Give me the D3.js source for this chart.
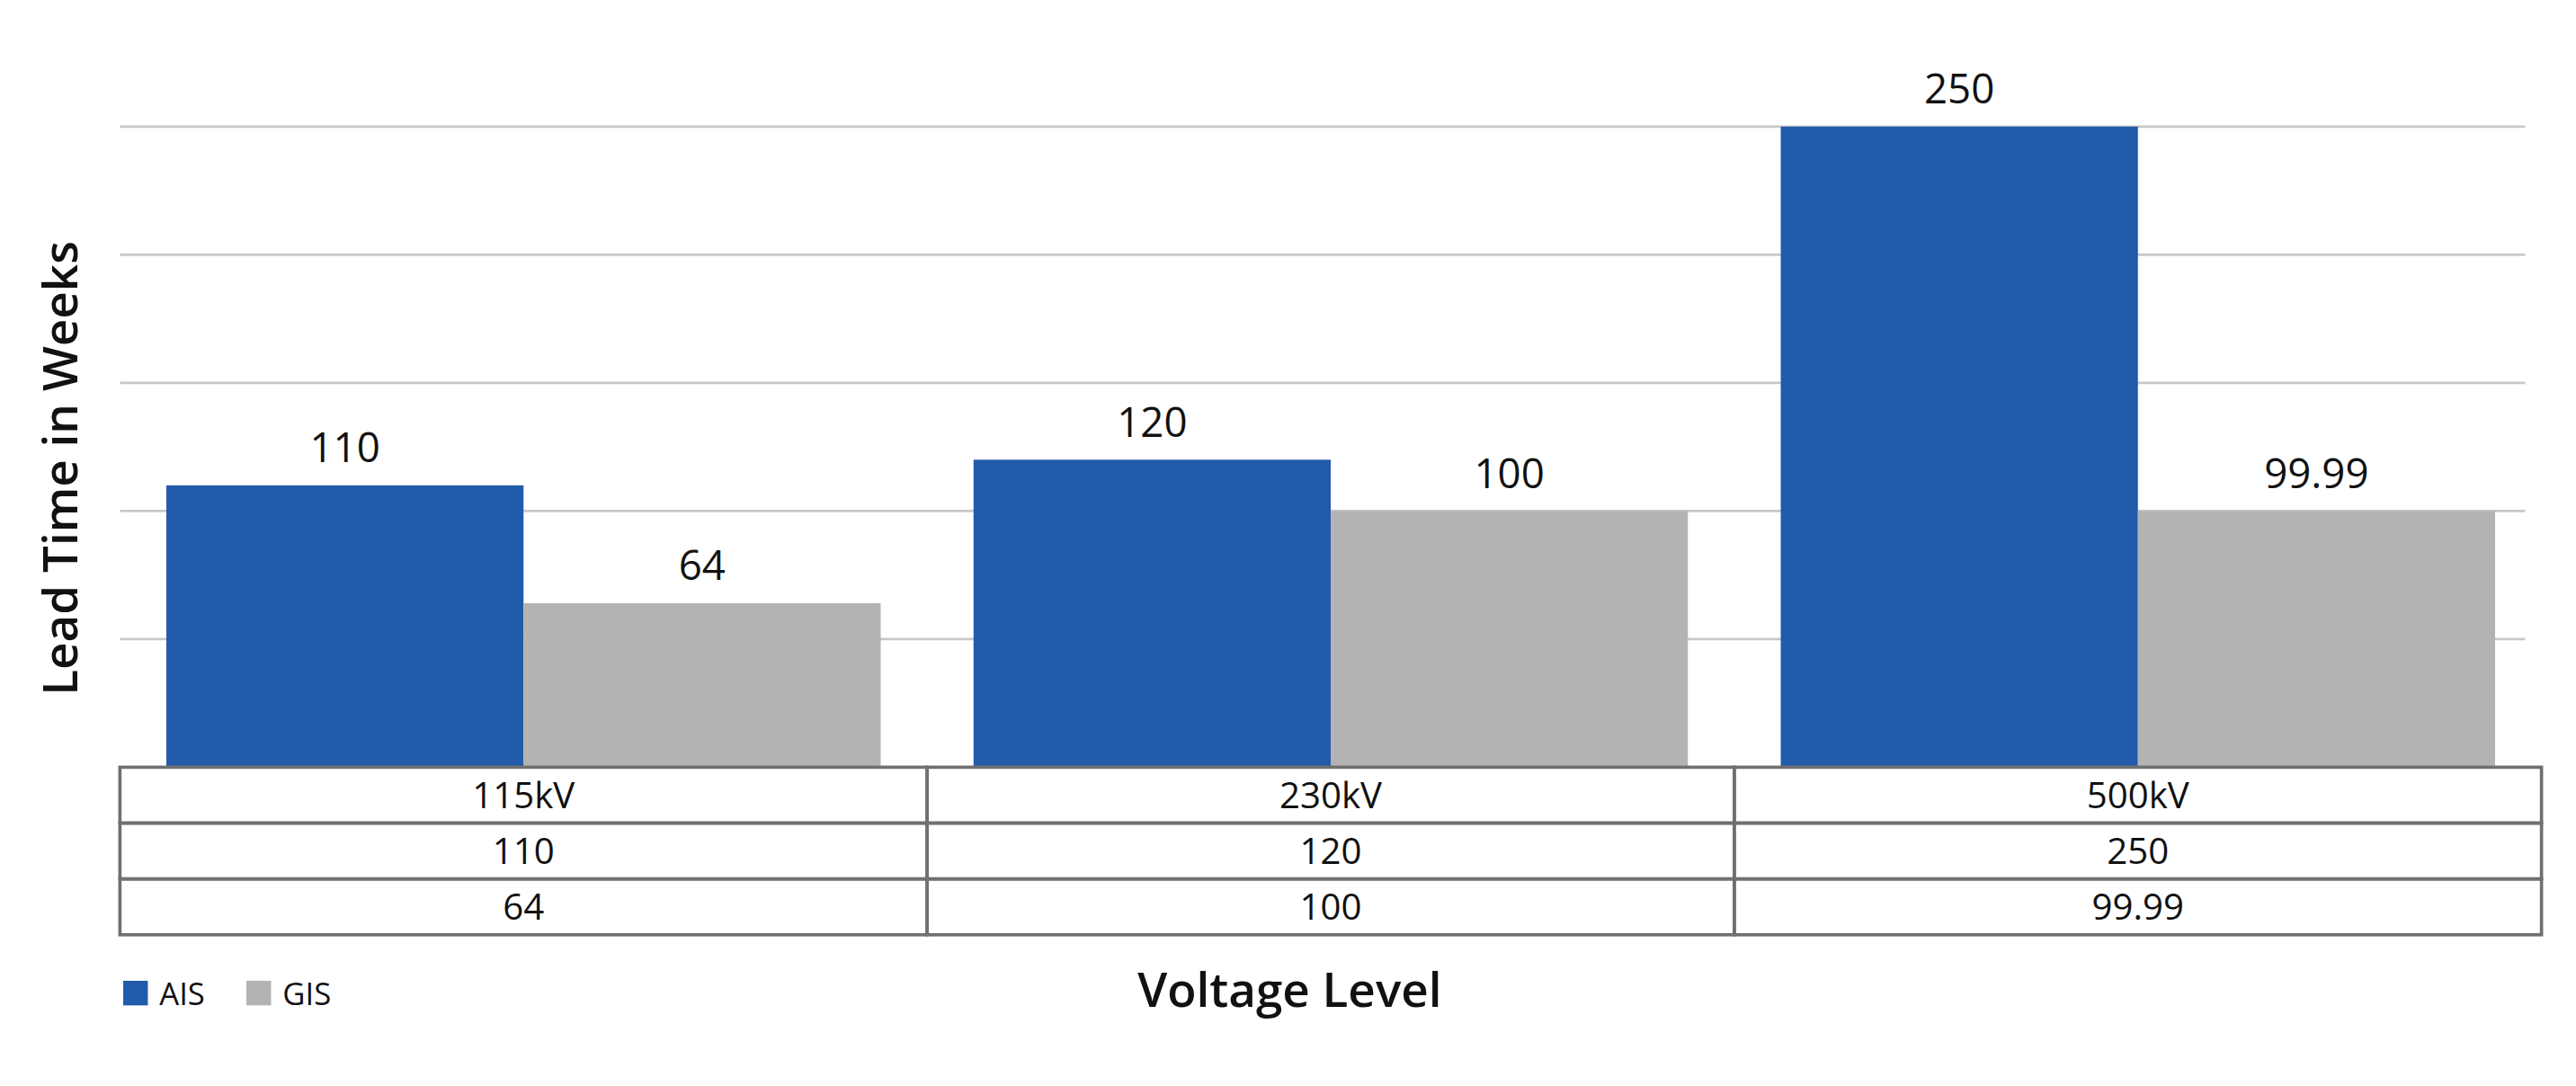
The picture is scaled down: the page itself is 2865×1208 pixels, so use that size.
<!DOCTYPE html>
<html><head><meta charset="utf-8">
<script src="https://cdn.jsdelivr.net/npm/d3@7"></script>
<style>body{margin:0;background:#fff}svg{display:block}text{font-family:"Open Sans",Lato,sans-serif}</style>
</head><body>
<script>
const categories = ["115kV","230kV","500kV"];
const seriesNames = ["AIS","GIS"];
const ais = [110,120,250];
const gis = [64,100,99.99];
const aisLabels = ["110","120","250"];
const gisLabels = ["64","100","99.99"];
const yTicks = [0,50,100,150,200,250];
const colors = ["#215BA9","#B3B3B3"];

(function(){
const W=1568,H=661;
const svg=d3.select("body").append("svg").attr("width",2865).attr("height",1208).attr("viewBox",`0 0 ${W} ${H}`);
const L=73,R=1547,plotTop=77,base=467;
const y=d3.scaleLinear().domain([0,250]).range([base,plotTop]);
const x=d3.scaleBand().domain(categories).range([L,R]).paddingInner(0).paddingOuter(0);
const x1=d3.scaleBand().domain(seriesNames).range([0,x.bandwidth()]).paddingInner(0).paddingOuter(0.13);

svg.append("g").selectAll("line").data(yTicks.slice(1)).join("line")
 .attr("x1",L).attr("x2",1537).attr("y1",d=>y(d)).attr("y2",d=>y(d))
 .attr("stroke","#c8c8c8").attr("stroke-width",1.5);

const data=[ais,gis];
const labels=[aisLabels,gisLabels];
seriesNames.forEach((s,si)=>{
  const g=svg.append("g");
  g.selectAll("rect").data(categories).join("rect")
   .attr("x",c=>x(c)+x1(s)).attr("width",x1.bandwidth())
   .attr("y",(c,i)=>y(data[si][i])).attr("height",(c,i)=>base-y(data[si][i]))
   .attr("fill",colors[si]);
  g.selectAll("text").data(categories).join("text")
   .attr("x",c=>x(c)+x1(s)+x1.bandwidth()/2).attr("y",(c,i)=>y(data[si][i])-14)
   .attr("text-anchor","middle").attr("font-size",25).attr("fill","#111")
   .text((c,i)=>labels[si][i]);
});

const rows=[categories,aisLabels,gisLabels];
const rh=34;
rows.forEach((r,ri)=>{
  const tg=svg.append("g");
  tg.selectAll("rect").data(categories).join("rect")
   .attr("x",c=>x(c)).attr("y",base+ri*rh).attr("width",x.bandwidth()).attr("height",rh)
   .attr("fill","none").attr("stroke","#707070").attr("stroke-width",2);
  tg.selectAll("text").data(categories).join("text")
   .attr("x",c=>x(c)+x.bandwidth()/2).attr("y",base+ri*rh+rh/2+8)
   .attr("text-anchor","middle").attr("font-size",22).attr("fill","#111")
   .text((c,i)=>r[i]);
});

svg.append("text").attr("transform",`translate(47,285) rotate(-90)`).attr("text-anchor","middle")
 .attr("font-size",29).attr("font-weight",600).attr("fill","#111").text("Lead Time in Weeks");
svg.append("text").attr("x",785).attr("y",613).attr("text-anchor","middle")
 .attr("font-size",29).attr("font-weight",600).attr("fill","#111").text("Voltage Level");

const lx=[75,150];
seriesNames.forEach((s,i)=>{
  svg.append("rect").attr("x",lx[i]).attr("y",597).attr("width",15).attr("height",15).attr("fill",colors[i]);
  svg.append("text").attr("x",lx[i]+22).attr("y",612).attr("font-size",19).attr("fill","#111").text(s);
});
})();
</script>
</body></html>
